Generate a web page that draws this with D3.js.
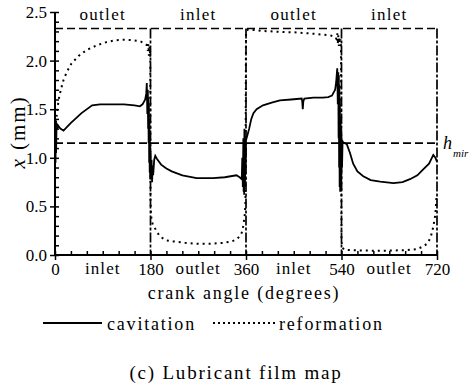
<!DOCTYPE html>
<html>
<head>
<meta charset="utf-8">
<script src="https://cdn.jsdelivr.net/npm/d3@7"></script>
<style>
  body { margin: 0; background: #fff; }
</style>
</head>
<body>
<script>
const width = 474;
const height = 387;
const serif = '"Liberation Serif"';

// crank angle (deg) and film extent x (mm)
const cavAngle = [0, 0.5, 1, 1.5, 2, 3, 4, 6, 10, 16, 30, 50, 70, 85, 100, 130, 150, 160, 165, 170, 172, 173, 174, 175, 175.5, 176, 176.5, 177, 177.5, 178, 178.5, 179, 179.5, 180, 181, 182, 183, 184, 185, 187, 189, 192, 200, 210, 220, 240, 267, 298, 320, 342, 348, 352, 353, 354, 355, 355.5, 356, 356.5, 357, 358, 359, 359.5, 360, 362, 366, 370, 374, 380, 392, 410, 424, 445, 465, 466, 467, 468, 470, 487, 505, 515, 522, 528, 530, 532, 533, 534, 534.5, 535, 535.5, 536, 536.5, 537, 537.5, 538, 538.5, 539, 539.5, 540, 541, 542, 543, 550, 556, 562, 570, 581, 595, 613, 638, 655, 669, 683, 694, 705, 713, 717, 720];
const cavValue = [0.87, 1.40, 0.95, 1.38, 1.05, 1.36, 1.30, 1.33, 1.30, 1.28, 1.36, 1.46, 1.54, 1.55, 1.55, 1.55, 1.54, 1.53, 1.55, 1.60, 1.66, 1.77, 1.45, 1.70, 1.30, 1.62, 1.15, 1.55, 0.95, 1.40, 0.85, 1.20, 0.78, 1.05, 0.80, 0.98, 0.75, 0.92, 0.82, 0.98, 1.02, 0.99, 0.93, 0.89, 0.86, 0.82, 0.79, 0.79, 0.80, 0.82, 0.80, 0.78, 1.00, 0.70, 1.20, 0.65, 1.10, 0.62, 1.30, 0.70, 1.15, 0.90, 1.18, 1.22, 1.30, 1.40, 1.46, 1.50, 1.54, 1.57, 1.59, 1.60, 1.61, 1.58, 1.50, 1.58, 1.61, 1.62, 1.62, 1.625, 1.64, 1.70, 1.78, 1.92, 1.55, 1.88, 1.20, 1.85, 0.90, 1.75, 0.70, 1.60, 0.65, 1.40, 0.70, 1.30, 0.66, 1.20, 0.90, 1.17, 1.16, 1.14, 1.05, 0.94, 0.86, 0.81, 0.77, 0.755, 0.74, 0.75, 0.78, 0.82, 0.88, 0.94, 1.03, 1.00, 0.96];

const refAngle = [0, 2, 4, 6, 8, 12, 16, 22, 31, 45, 60, 80, 97, 115, 129, 145, 160, 168, 173, 175, 176, 177, 178, 179, 179.5, 180, 181, 182, 185, 188, 193, 198, 210, 223, 245, 267, 290, 317, 333, 342, 348, 352, 355, 358, 359, 360, 364, 393, 425, 455, 490, 519, 525, 530, 532, 533, 534, 535, 536, 537, 538, 539, 540, 541, 545, 557, 590, 625, 660, 682, 695, 702, 708, 713, 717, 719];
const refValue = [1.30, 1.38, 1.47, 1.56, 1.63, 1.72, 1.80, 1.88, 1.97, 2.05, 2.11, 2.16, 2.19, 2.21, 2.215, 2.21, 2.20, 2.18, 2.16, 2.10, 2.17, 2.05, 2.15, 2.08, 2.10, 0.55, 0.42, 0.36, 0.30, 0.28, 0.23, 0.19, 0.15, 0.14, 0.125, 0.115, 0.115, 0.125, 0.14, 0.16, 0.19, 0.23, 0.30, 0.43, 0.55, 2.30, 2.32, 2.305, 2.295, 2.29, 2.275, 2.26, 2.25, 2.225, 2.28, 2.17, 2.26, 2.15, 2.24, 2.18, 2.22, 2.15, 0.15, 0.08, 0.055, 0.05, 0.045, 0.045, 0.05, 0.06, 0.09, 0.12, 0.18, 0.29, 0.42, 0.60];

const xMajor = [0, 180, 360, 540, 720];
const yMajor = [0, 0.5, 1.0, 1.5, 2.0, 2.5];
const regionMid = [90, 270, 450, 630];
const topLabels = ["outlet", "inlet", "outlet", "inlet"];
const axisLabels = ["inlet", "outlet", "inlet", "outlet"];
const dividers = [180, 360, 540, 720];
const upperLevel = 2.33;
const hmirLevel = 1.15;

const svg = d3.select("body").append("svg")
    .attr("width", width)
    .attr("height", height);

const x = d3.scaleLinear([0, 720], [55, 437]);
const y = d3.scaleLinear([0, 2.5], [255, 12]);

// reference lines
svg.selectAll("line.level")
    .data([upperLevel, hmirLevel])
    .join("line")
    .attr("class", "level")
    .attr("x1", x(0)).attr("x2", x(720))
    .attr("y1", d => y(d)).attr("y2", d => y(d))
    .style("stroke", "#000")
    .style("stroke-width", 1.7)
    .style("stroke-dasharray", "8,4");

svg.selectAll("line.divider")
    .data(dividers)
    .join("line")
    .attr("class", "divider")
    .attr("x1", d => x(d)).attr("x2", d => x(d))
    .attr("y1", y(upperLevel)).attr("y2", y(0))
    .style("stroke", "#000")
    .style("stroke-width", 1.7)
    .style("stroke-dasharray", "10,2,3,2");

// series
const line = d3.line().x(d => x(d[0])).y(d => y(d[1]));

svg.append("path")
    .datum(d3.zip(cavAngle, cavValue))
    .attr("d", line)
    .style("fill", "none")
    .style("stroke", "#000")
    .style("stroke-width", 1.8);

svg.append("path")
    .datum(d3.zip(refAngle, refValue))
    .attr("d", line)
    .style("fill", "none")
    .style("stroke", "#000")
    .style("stroke-width", 2)
    .style("stroke-dasharray", "2,4");

// axes
svg.append("g").attr("transform", `translate(0,${y(0)})`)
    .call(d3.axisBottom(x).tickValues(xMajor).tickSize(5).tickPadding(3).tickFormat(d3.format("d")));
svg.append("g").attr("transform", `translate(0,${y(0)})`)
    .call(d3.axisTop(x).tickValues(d3.range(0, 721, 30)).tickSize(4).tickFormat(""));

svg.append("g").attr("transform", `translate(${x(0)},0)`)
    .call(d3.axisLeft(y).tickValues(yMajor).tickSize(5).tickPadding(3).tickFormat(d3.format(".1f")));
svg.append("g").attr("transform", `translate(${x(0)},0)`)
    .call(d3.axisRight(y).tickValues(d3.range(0, 26).map(i => i / 10)).tickSize(4).tickFormat(""));

svg.selectAll(".domain").remove();
svg.append("line").attr("x1", x(0)).attr("x2", x(720)).attr("y1", y(0)).attr("y2", y(0))
    .style("stroke", "#000").style("stroke-width", 2);
svg.append("line").attr("x1", x(0)).attr("x2", x(0)).attr("y1", y(0)).attr("y2", y(2.5))
    .style("stroke", "#000").style("stroke-width", 2);

svg.selectAll(".tick line").style("stroke", "#000").style("stroke-width", 1.5);
svg.selectAll(".tick text").style("font-size", "17px").style("fill", "#000");

// region labels
svg.selectAll("text.top")
    .data(topLabels)
    .join("text")
    .attr("class", "top")
    .attr("x", (d, i) => x(regionMid[i]))
    .attr("y", 20)
    .attr("text-anchor", "middle")
    .style("font-size", "17px")
    .style("letter-spacing", "1.3px")
    .text(d => d);

svg.selectAll("text.bottom")
    .data(axisLabels)
    .join("text")
    .attr("class", "bottom")
    .attr("x", (d, i) => x(regionMid[i]))
    .attr("y", 274)
    .attr("text-anchor", "middle")
    .style("font-size", "17px")
    .style("letter-spacing", "1.1px")
    .text(d => d);

// h_mir label
const hm = svg.append("text")
    .attr("x", 443)
    .attr("y", y(hmirLevel) + 6)
    .style("font-style", "italic")
    .style("font-size", "18px");
hm.append("tspan").text("h");
hm.append("tspan").attr("dy", 8).attr("dx", 1).style("font-size", "11px").text("mir");

// axis titles
svg.append("text")
    .attr("x", 244)
    .attr("y", 299)
    .attr("text-anchor", "middle")
    .style("font-size", "18px")
    .style("letter-spacing", "1.8px")
    .text("crank angle (degrees)");

const yt = svg.append("text")
    .attr("transform", "translate(25,132) rotate(-90)")
    .attr("text-anchor", "middle")
    .style("font-size", "21px")
    .style("letter-spacing", "2px");
yt.append("tspan").style("font-style", "italic").text("x");
yt.append("tspan").text(" (mm)");

// legend
svg.append("line").attr("x1", 43).attr("x2", 102).attr("y1", 323).attr("y2", 323)
    .style("stroke", "#000").style("stroke-width", 1.8);
svg.append("text").attr("x", 107).attr("y", 330)
    .style("font-size", "18px").style("letter-spacing", "1.8px").text("cavitation");
svg.append("line").attr("x1", 213).attr("x2", 277).attr("y1", 323).attr("y2", 323)
    .style("stroke", "#000").style("stroke-width", 2).style("stroke-dasharray", "2,3");
svg.append("text").attr("x", 279).attr("y", 330)
    .style("font-size", "18px").style("letter-spacing", "1.8px").text("reformation");

// caption
svg.append("text")
    .attr("x", 236)
    .attr("y", 379)
    .attr("text-anchor", "middle")
    .style("font-size", "19px")
    .style("letter-spacing", "1.8px")
    .text("(c) Lubricant film map");

svg.selectAll("text").style("font-family", serif).style("fill", "#000");
</script>
</body>
</html>
